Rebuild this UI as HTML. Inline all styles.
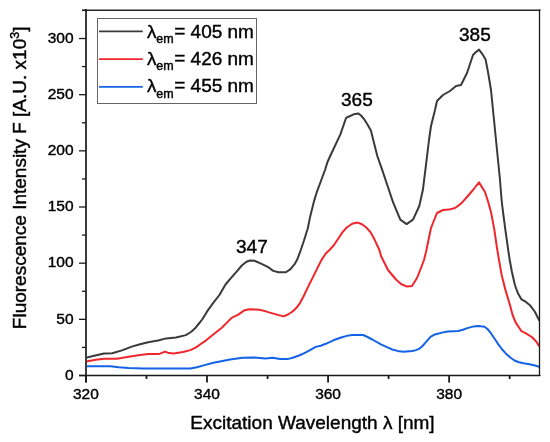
<!DOCTYPE html>
<html><head><meta charset="utf-8"><style>
html,body{margin:0;padding:0;background:#fff;}
svg{display:block;}
text{font-family:"Liberation Sans",Arial,sans-serif;fill:#000;stroke:#000;stroke-width:0.4px;}
</style></head><body>
<svg width="550" height="442" viewBox="0 0 550 442">
<rect width="550" height="442" fill="#fff"/>
<g fill="none" stroke-width="2" stroke-linejoin="round" stroke-linecap="round">
<polyline points="86,366.3 110.5,366.3 118.7,367.2 128.6,367.9 143.3,368.4 176,368.4 190.5,368.4 196.9,367.3 204.5,365.1 213.4,362.8 221.1,361.3 230,359.6 242.7,357.8 254.5,357.6 265.5,358.5 272.7,357.8 280,359.1 287.6,359.1 292.7,357.8 299.1,355.5 305.4,352.7 310.5,349.8 315.6,346.9 320.7,345.7 325.8,343.8 333.4,340.3 341.1,337.5 348.7,335.4 352.3,335 363.2,335 367.5,337 372.3,339.5 381.4,344.6 387,347.2 392.3,349.5 397.5,350.9 403.2,351.7 412.3,351 416,350.1 419.5,348.6 422.5,346 425,343.2 430.5,336.8 434,334.8 437.7,333.7 445,331.9 448,331.6 458.2,331 463,329.8 467.3,328.1 473,326.6 478.2,325.9 484.5,326.8 487.5,329 490.9,333.2 494.5,338.5 498.2,344.1 501.8,349 505.5,353.2 510,357.3 514.5,360.5 519,362.2 523.6,363.2 530.9,364.5 535,365.5 539.1,366.8" stroke="#1463e6"/>
<polyline points="86,361.4 95.8,359.8 104,358.8 117.1,358.7 128.6,356.8 140,355.1 148.2,354 158,354 160,353.7 165.1,351.6 168.9,353.1 174,353.4 182.9,352 190.5,350.1 196.9,346.9 200,344.5 205.5,340.8 213.6,334.3 221.8,327.7 231.6,317.9 238.2,314.6 244.7,310.2 249.6,309.2 259.5,309.7 266,311.4 269,312.4 276,314.4 283.5,316.4 288,314.5 292.6,311.5 296.5,307.8 299.8,303.3 303.5,296.5 307.1,288.9 314.3,274.4 321.5,259.9 326,253.2 329.8,249.7 333.6,245.5 338,239 342.4,232.4 346.7,227.5 352.2,223.7 357.6,222.6 362,224.3 366.3,227.5 370.7,232.4 374,238.4 377.3,245.5 379.4,250 381,256 382,258 388,270 396,279.5 401,284 407,286.6 412,286 417,278 421,268 424,260 426,252 431,228 437,213 443,210 449,209.6 455,208 461,203.6 467,197 473,190 479,182.4 485,192 487.6,200 491,212 494.3,229.4 497,248 499,260 501.6,274.7 505.3,289.4 509.7,304 512.6,315 515.6,322.4 521.5,331.2 525.9,333.4 531.8,337 536.2,341.5 539,345.9" stroke="#f0262c"/>
<polyline points="86,357.7 94.2,355.8 104,353.6 112.2,353.2 122,350.4 131.8,346.6 140,344.3 148.2,342.2 158,340.5 166.2,338.4 176,337.5 185.8,335.1 191,332 195.6,327.7 199,323.5 202.2,319.5 207.1,311.4 213.6,302.4 219.4,295 222.3,290 225.5,284.5 230.9,278.2 236.4,271.8 241.8,265.5 246.4,261.8 250,260.5 254.5,260.7 255,261 260.5,263.4 267.7,266.8 273.2,270.9 278.6,272.3 285.9,272.3 290.5,269.1 295,263.6 297.1,259.8 300.7,250.3 303.9,240.8 307.8,228.2 310.2,216.4 314.2,200.6 316.6,192.7 321.3,180 325,170 327.5,162 330.2,156 340.4,134.4 346.1,117.8 349,116.5 353.7,114.3 358.2,113.4 361,115.5 364.5,119.7 367.5,124.5 370.9,130.5 377.3,156 382.2,169.9 387.7,186.2 393.1,202.4 400.3,219.6 406.6,224.1 413,219.6 419.3,206 422.9,189.8 425.6,168.1 427.8,150 429,140 431,126 435,110 437,101 443,95 450,91 456,86 461,85 467,73 473,55 476,52 479,49.6 482,53.6 485.6,59.6 488,72 491,90 492.5,105 494,120 496,140 498,160 500,180 501.6,200 503,211.8 505.3,229.4 508.2,250 509.7,260 511.9,271.8 514.9,285 517.8,293 521.5,299.4 525.9,301.9 530.3,305.6 534.7,311.5 538.4,318.8 539,320" stroke="#3a3a3a"/>
</g>
<g stroke="#1a1a1a" stroke-width="1.6">
<line x1="86" y1="9" x2="86" y2="382.6" stroke-width="2" stroke="#3c3c3c"/>
<line x1="79" y1="375.5" x2="540.5" y2="375.5" stroke-width="1.3"/>
<line x1="539.5" y1="9.5" x2="539.5" y2="376" stroke-width="1.3"/>
<line x1="82" y1="10.2" x2="540.5" y2="10.2" stroke="#262626"/>
<line x1="85.95" y1="375" x2="85.95" y2="382.6" stroke-width="1.8"/><line x1="207.01" y1="375" x2="207.01" y2="382.6" stroke-width="1.8"/><line x1="328.07" y1="375" x2="328.07" y2="382.6" stroke-width="1.8"/><line x1="449.13" y1="375" x2="449.13" y2="382.6" stroke-width="1.8"/><line x1="146.48" y1="375" x2="146.48" y2="379" stroke-width="1.8"/><line x1="267.54" y1="375" x2="267.54" y2="379" stroke-width="1.8"/><line x1="388.60" y1="375" x2="388.60" y2="379" stroke-width="1.8"/><line x1="509.66" y1="375" x2="509.66" y2="379" stroke-width="1.8"/><line x1="79" y1="375.50" x2="86" y2="375.50" stroke-width="1.3"/><line x1="79" y1="319.33" x2="86" y2="319.33" stroke-width="1.3"/><line x1="79" y1="263.17" x2="86" y2="263.17" stroke-width="1.3"/><line x1="79" y1="207.00" x2="86" y2="207.00" stroke-width="1.3"/><line x1="79" y1="150.84" x2="86" y2="150.84" stroke-width="1.3"/><line x1="79" y1="94.68" x2="86" y2="94.68" stroke-width="1.3"/><line x1="79" y1="38.51" x2="86" y2="38.51" stroke-width="1.3"/><line x1="82" y1="347.42" x2="86" y2="347.42" stroke-width="1.3"/><line x1="82" y1="291.25" x2="86" y2="291.25" stroke-width="1.3"/><line x1="82" y1="235.09" x2="86" y2="235.09" stroke-width="1.3"/><line x1="82" y1="178.92" x2="86" y2="178.92" stroke-width="1.3"/><line x1="82" y1="122.76" x2="86" y2="122.76" stroke-width="1.3"/><line x1="82" y1="66.59" x2="86" y2="66.59" stroke-width="1.3"/><line x1="82" y1="10.43" x2="86" y2="10.43" stroke-width="1.3"/>
</g>
<g font-size="15.5">
<text x="85.95" y="399.2" text-anchor="middle">320</text><text x="207.01" y="399.2" text-anchor="middle">340</text><text x="328.07" y="399.2" text-anchor="middle">360</text><text x="449.13" y="399.2" text-anchor="middle">380</text><text x="73.6" y="379.70" text-anchor="end">0</text><text x="73.6" y="323.53" text-anchor="end">50</text><text x="73.6" y="267.37" text-anchor="end">100</text><text x="73.6" y="211.20" text-anchor="end">150</text><text x="73.6" y="155.04" text-anchor="end">200</text><text x="73.6" y="98.88" text-anchor="end">250</text><text x="73.6" y="42.71" text-anchor="end">300</text>
</g>
<g font-size="19">
<text x="236" y="252.6">347</text>
<text x="341" y="106.3">365</text>
<text x="459" y="41.3">385</text>
</g>
<text font-size="19" x="312.5" y="428.6" text-anchor="middle">Excitation Wavelength λ [nm]</text>
<text font-size="19" transform="translate(26.2,329.2) rotate(-90)">Fluorescence Intensity F [A.U. x10<tspan font-size="12.5" dy="-7.5">3</tspan><tspan dy="7.5">]</tspan></text>
<rect x="97.5" y="18.5" width="159" height="85" fill="#fff" stroke="#666" stroke-width="1"/>
<g stroke-width="1.8">
<line x1="99" y1="31.4" x2="142.8" y2="31.4" stroke="#3a3a3a"/>
<line x1="99" y1="59.1" x2="142.8" y2="59.1" stroke="#f0262c"/>
<line x1="99" y1="86.8" x2="142.8" y2="86.8" stroke="#1463e6"/>
</g>
<g font-size="19">
<text x="147" y="37.8">λ</text><text x="156.3" y="43.1" font-size="12.5">em</text><text x="174.2" y="36.6">=</text><text x="190.58" y="37.8">405 nm</text>
<text x="147" y="65.1">λ</text><text x="156.3" y="70.4" font-size="12.5">em</text><text x="174.2" y="63.9">=</text><text x="190.58" y="65.1">426 nm</text>
<text x="147" y="92.4">λ</text><text x="156.3" y="97.7" font-size="12.5">em</text><text x="174.2" y="91.2">=</text><text x="190.58" y="92.4">455 nm</text>
</g>
</svg>
</body></html>
